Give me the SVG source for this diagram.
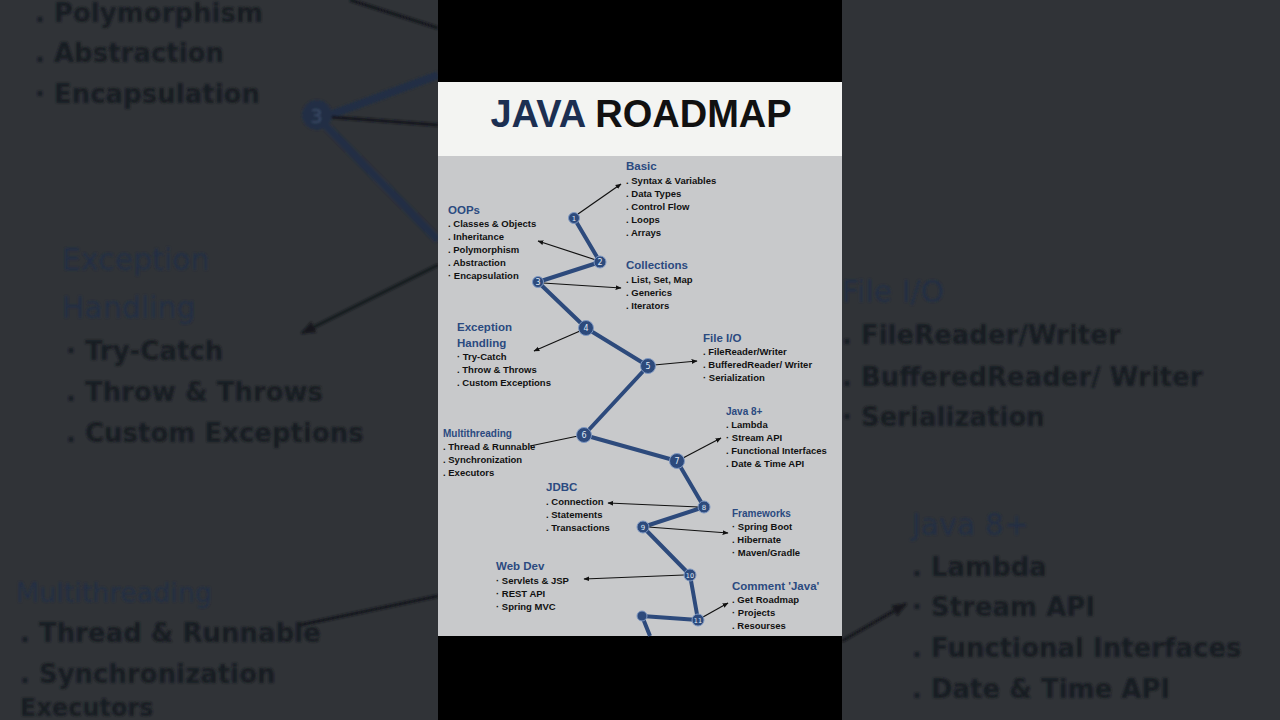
<svg xmlns="http://www.w3.org/2000/svg" width="1280" height="720" viewBox="0 0 1280 720">
<defs>
<marker id="ah" viewBox="0 0 10 10" refX="9" refY="5" markerWidth="5" markerHeight="5" orient="auto"><path d="M0,1 L10,5 L0,9 z" fill="#111"/></marker>
<marker id="ahb" viewBox="0 0 10 10" refX="9" refY="5" markerWidth="5" markerHeight="5" orient="auto"><path d="M0,1 L10,5 L0,9 z" fill="#14171c"/></marker>
<filter id="bl"><feGaussianBlur stdDeviation="1.2"/></filter>
</defs>
<style>
.bg{font-family:"DejaVu Sans",sans-serif;font-weight:bold;font-size:26px;fill:#181b20}
.bh{font-family:"DejaVu Sans",sans-serif;font-size:30px;fill:#232f45}
.t{font-family:"Liberation Sans",sans-serif;font-weight:bold;font-size:9.5px;fill:#111}
.h{font-family:"Liberation Sans",sans-serif;font-weight:bold;font-size:11.5px;fill:#2b4a80}
.ln{stroke:#111;stroke-width:1.2;fill:none;marker-end:url(#ah)}
.path{stroke:#2d4a7c;stroke-width:4;fill:none;stroke-linejoin:round}
.nd circle{fill:#2d4a7c;stroke:#7f98c2;stroke-width:1}
.nd text{font-family:"DejaVu Sans",sans-serif;font-size:8px;fill:#dfe6f2;text-anchor:middle}
</style>
<rect width="1280" height="720" fill="#303337"/>
<g id="background-left" filter="url(#bl)">
<text class="bg" x="35" y="22">. Polymorphism</text>
<text class="bg" x="35" y="62">. Abstraction</text>
<text class="bg" x="35" y="103">· Encapsulation</text>
<line x1="350" y1="0" x2="438" y2="28" stroke="#14171c" stroke-width="3"/>
<line x1="330" y1="115" x2="438" y2="75" stroke="#232f45" stroke-width="8"/>
<line x1="330" y1="117" x2="438" y2="125" stroke="#14171c" stroke-width="3"/>
<line x1="325" y1="125" x2="438" y2="240" stroke="#232f45" stroke-width="8"/>
<circle cx="317" cy="115" r="15" fill="#232f45"/>
<text class="bh" x="310" y="123" style="font-size:20px;fill:#3a4a66">3</text>
<text class="bh" x="62" y="270">Exception</text>
<text class="bh" x="62" y="318">Handling</text>
<text class="bg" x="66" y="360">· Try-Catch</text>
<text class="bg" x="66" y="401">. Throw &amp; Throws</text>
<text class="bg" x="66" y="442">. Custom Exceptions</text>
<line x1="438" y1="265" x2="302" y2="333" stroke="#14171c" stroke-width="3" marker-end="url(#ahb)"/>
<text class="bh" x="16" y="602" style="font-size:27px">Multithreading</text>
<text class="bg" x="20" y="642">. Thread &amp; Runnable</text>
<text class="bg" x="20" y="683">. Synchronization</text>
<text class="bg" x="20" y="716" style="font-size:24px">Executors</text>
<line x1="438" y1="596" x2="300" y2="625" stroke="#14171c" stroke-width="3"/>
</g>
<g id="background-right" filter="url(#bl)">
<text class="bh" x="842" y="302">File I/O</text>
<text class="bg" x="842" y="344">. FileReader/Writer</text>
<text class="bg" x="842" y="386">. BufferedReader/ Writer</text>
<text class="bg" x="842" y="426">· Serialization</text>
<text class="bh" x="912" y="535">Java 8+</text>
<text class="bg" x="912" y="576">. Lambda</text>
<text class="bg" x="912" y="616">· Stream API</text>
<text class="bg" x="912" y="657">. Functional Interfaces</text>
<text class="bg" x="912" y="698">. Date &amp; Time API</text>
<line x1="842" y1="641" x2="906" y2="604" stroke="#14171c" stroke-width="3" marker-end="url(#ahb)"/>
</g>
<rect x="438" y="0" width="404" height="82" fill="#000"/>
<rect x="438" y="636" width="404" height="84" fill="#000"/>
<rect x="438" y="82" width="404" height="74" fill="#f3f4f2"/>
<text x="641" y="127" text-anchor="middle" style="font-family:'Liberation Sans',sans-serif;font-weight:bold;font-size:38px"><tspan fill="#1c2f52">JAVA</tspan><tspan fill="#111"> ROADMAP</tspan></text>
<rect x="438" y="156" width="404" height="480" fill="#c8c9cb"/>
<g id="connectors">
<polyline class="path" points="574,218 600,262 538,282 586,328 648,366 584,435 677,461 704,507 643,527 690,575 698,620 642,616 650,636"/>
<line class="ln" x1="578" y1="214" x2="621" y2="184"/>
<line class="ln" x1="596" y1="260" x2="538" y2="241"/>
<line class="ln" x1="543" y1="283" x2="621" y2="288"/>
<line class="ln" x1="580" y1="331" x2="534" y2="351"/>
<line class="ln" x1="654" y1="365" x2="697" y2="361"/>
<line x1="578" y1="436" x2="530" y2="446" stroke="#111" stroke-width="1.2"/>
<line class="ln" x1="683" y1="458" x2="721" y2="438"/>
<line class="ln" x1="699" y1="507" x2="608" y2="503"/>
<line class="ln" x1="648" y1="527" x2="728" y2="533"/>
<line class="ln" x1="684" y1="575" x2="584" y2="579"/>
<line class="ln" x1="703" y1="617" x2="728" y2="603"/>
</g>
<g id="n1" class="nd"><circle cx="574" cy="218" r="5.5"/><text x="574" y="221" style="font-size:7px">1</text></g>
<g id="n2" class="nd"><circle cx="600" cy="262" r="6"/><text x="600" y="265">2</text></g>
<g id="n3" class="nd"><circle cx="538" cy="282" r="5.5"/><text x="538" y="285">3</text></g>
<g id="n4" class="nd"><circle cx="586" cy="328" r="7.5"/><text x="586" y="331">4</text></g>
<g id="n5" class="nd"><circle cx="648" cy="366" r="7.5"/><text x="648" y="369">5</text></g>
<g id="n6" class="nd"><circle cx="584" cy="435" r="7.5"/><text x="584" y="438">6</text></g>
<g id="n7" class="nd"><circle cx="677" cy="461" r="7.5"/><text x="677" y="464">7</text></g>
<g id="n8" class="nd"><circle cx="704" cy="507" r="6"/><text x="704" y="510" style="font-size:7px">8</text></g>
<g id="n9" class="nd"><circle cx="643" cy="527" r="6"/><text x="643" y="530" style="font-size:7px">9</text></g>
<g id="n10" class="nd"><circle cx="690" cy="575" r="6"/><text x="690" y="577.5" style="font-size:6.5px">10</text></g>
<g id="n11" class="nd"><circle cx="698" cy="620" r="6"/><text x="698" y="622.5" style="font-size:6.5px">11</text></g>
<g id="n12" class="nd"><circle cx="642" cy="616" r="5"/></g>
<g id="basic"><text class="h" x="626" y="170">Basic</text>
<text class="t" x="626" y="184">. Syntax &amp; Variables</text><text class="t" x="626" y="197">. Data Types</text><text class="t" x="626" y="210">. Control Flow</text><text class="t" x="626" y="223">. Loops</text><text class="t" x="626" y="236">. Arrays</text></g>
<g id="oops"><text class="h" x="448" y="214">OOPs</text>
<text class="t" x="448" y="227">. Classes &amp; Objects</text><text class="t" x="448" y="240">. Inheritance</text><text class="t" x="448" y="253">. Polymorphism</text><text class="t" x="448" y="266">. Abstraction</text><text class="t" x="448" y="279">· Encapsulation</text></g>
<g id="collections"><text class="h" x="626" y="269">Collections</text>
<text class="t" x="626" y="283">. List, Set, Map</text><text class="t" x="626" y="296">. Generics</text><text class="t" x="626" y="309">. Iterators</text></g>
<g id="exception"><text class="h" x="457" y="331">Exception</text><text class="h" x="457" y="347">Handling</text>
<text class="t" x="457" y="360">· Try-Catch</text><text class="t" x="457" y="373">. Throw &amp; Throws</text><text class="t" x="457" y="386">. Custom Exceptions</text></g>
<g id="fileio"><text class="h" x="703" y="342">File I/O</text>
<text class="t" x="703" y="355">. FileReader/Writer</text><text class="t" x="703" y="368">. BufferedReader/ Writer</text><text class="t" x="703" y="381">· Serialization</text></g>
<g id="multithreading"><text class="h" x="443" y="437" style="font-size:10px">Multithreading</text>
<text class="t" x="443" y="450">. Thread &amp; Runnable</text><text class="t" x="443" y="463">. Synchronization</text><text class="t" x="443" y="476">. Executors</text></g>
<g id="java8"><text class="h" x="726" y="415" style="font-size:10px">Java 8+</text>
<text class="t" x="726" y="428">. Lambda</text><text class="t" x="726" y="441">· Stream API</text><text class="t" x="726" y="454">. Functional Interfaces</text><text class="t" x="726" y="467">. Date &amp; Time API</text></g>
<g id="jdbc"><text class="h" x="546" y="491">JDBC</text>
<text class="t" x="546" y="505">. Connection</text><text class="t" x="546" y="518">. Statements</text><text class="t" x="546" y="531">. Transactions</text></g>
<g id="frameworks"><text class="h" x="732" y="517" style="font-size:10px">Frameworks</text>
<text class="t" x="732" y="530">· Spring Boot</text><text class="t" x="732" y="543">. Hibernate</text><text class="t" x="732" y="556">· Maven/Gradle</text></g>
<g id="webdev"><text class="h" x="496" y="570">Web Dev</text>
<text class="t" x="496" y="584">· Servlets &amp; JSP</text><text class="t" x="496" y="597">· REST API</text><text class="t" x="496" y="610">· Spring MVC</text></g>
<g id="comment"><text class="h" x="732" y="590">Comment 'Java'</text>
<text class="t" x="732" y="603">. Get Roadmap</text><text class="t" x="732" y="616">· Projects</text><text class="t" x="732" y="629">. Resourses</text></g>
</svg>
